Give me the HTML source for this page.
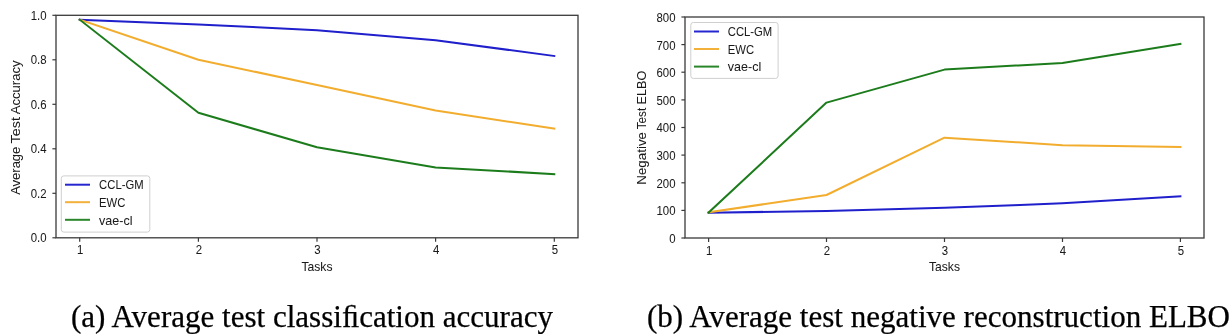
<!DOCTYPE html><html><head><meta charset="utf-8"><style>html,body{margin:0;padding:0;background:#fff;width:1232px;height:334px;overflow:hidden}svg{display:block;filter:blur(0.4px)}</style></head><body><svg width="1232" height="334" viewBox="0 0 1232 334">
<style>.t{font-family:"Liberation Sans",sans-serif;font-size:12.8px;fill:#1a1a1a;stroke:#1a1a1a;stroke-width:0.04px}.c{font-family:"Liberation Serif",serif;font-size:31px;fill:#000;stroke:#000;stroke-width:0.25px}</style>
<rect width="1232" height="334" fill="#fff"/>
<polyline points="79.7,19.7 198.4,24.5 317.0,30.2 435.6,40.2 554.3,56.0" fill="none" stroke="#1f1fcc" stroke-width="2" stroke-linejoin="round" stroke-linecap="square"/>
<polyline points="79.7,19.7 198.4,59.8 317.0,84.9 435.6,110.6 554.3,128.6" fill="none" stroke="#f2ad2e" stroke-width="2" stroke-linejoin="round" stroke-linecap="square"/>
<polyline points="79.7,19.7 198.4,112.8 317.0,147.3 435.6,167.4 554.3,174.1" fill="none" stroke="#1c7c1c" stroke-width="2" stroke-linejoin="round" stroke-linecap="square"/>
<rect x="56" y="15.3" width="522" height="222.5" fill="none" stroke="#3a3a3a" stroke-width="1.3"/>
<line x1="52.4" y1="237.8" x2="56" y2="237.8" stroke="#3a3a3a" stroke-width="1.2"/>
<text transform="translate(46.5,242.1) scale(0.890625,1)" text-anchor="end" class="t">0.0</text>
<line x1="52.4" y1="193.3" x2="56" y2="193.3" stroke="#3a3a3a" stroke-width="1.2"/>
<text transform="translate(46.5,197.6) scale(0.890625,1)" text-anchor="end" class="t">0.2</text>
<line x1="52.4" y1="148.8" x2="56" y2="148.8" stroke="#3a3a3a" stroke-width="1.2"/>
<text transform="translate(46.5,153.1) scale(0.890625,1)" text-anchor="end" class="t">0.4</text>
<line x1="52.4" y1="104.3" x2="56" y2="104.3" stroke="#3a3a3a" stroke-width="1.2"/>
<text transform="translate(46.5,108.6) scale(0.890625,1)" text-anchor="end" class="t">0.6</text>
<line x1="52.4" y1="59.8" x2="56" y2="59.8" stroke="#3a3a3a" stroke-width="1.2"/>
<text transform="translate(46.5,64.1) scale(0.890625,1)" text-anchor="end" class="t">0.8</text>
<line x1="52.4" y1="15.3" x2="56" y2="15.3" stroke="#3a3a3a" stroke-width="1.2"/>
<text transform="translate(46.5,19.6) scale(0.890625,1)" text-anchor="end" class="t">1.0</text>
<line x1="79.7" y1="237.8" x2="79.7" y2="241.8" stroke="#3a3a3a" stroke-width="1.2"/>
<text transform="translate(80.2,254.3) scale(0.890625,1)" text-anchor="middle" class="t">1</text>
<line x1="198.4" y1="237.8" x2="198.4" y2="241.8" stroke="#3a3a3a" stroke-width="1.2"/>
<text transform="translate(198.9,254.3) scale(0.890625,1)" text-anchor="middle" class="t">2</text>
<line x1="317.0" y1="237.8" x2="317.0" y2="241.8" stroke="#3a3a3a" stroke-width="1.2"/>
<text transform="translate(317.5,254.3) scale(0.890625,1)" text-anchor="middle" class="t">3</text>
<line x1="435.6" y1="237.8" x2="435.6" y2="241.8" stroke="#3a3a3a" stroke-width="1.2"/>
<text transform="translate(436.1,254.3) scale(0.890625,1)" text-anchor="middle" class="t">4</text>
<line x1="554.3" y1="237.8" x2="554.3" y2="241.8" stroke="#3a3a3a" stroke-width="1.2"/>
<text transform="translate(554.8,254.3) scale(0.890625,1)" text-anchor="middle" class="t">5</text>
<text x="317.0" y="270.6" text-anchor="middle" class="t" textLength="31" lengthAdjust="spacingAndGlyphs">Tasks</text>
<text transform="translate(19.8,194.8) rotate(-90)" x="0" y="0" class="t" textLength="48.1" lengthAdjust="spacingAndGlyphs">Average</text>
<text transform="translate(19.8,143.4) rotate(-90)" x="0" y="0" class="t" textLength="26.3" lengthAdjust="spacingAndGlyphs">Test</text>
<text transform="translate(19.8,114.3) rotate(-90)" x="0" y="0" class="t" textLength="53.8" lengthAdjust="spacingAndGlyphs">Accuracy</text>
<rect x="61.3" y="175.9" width="88.5" height="56.2" rx="2.5" ry="2.5" fill="#fff" fill-opacity="0.8" stroke="#cfcfcf" stroke-width="1"/>
<line x1="65" y1="184.7" x2="90" y2="184.7" stroke="#2626d0" stroke-width="2" stroke-linecap="butt"/>
<text transform="translate(99.1,189.4) scale(0.882,1)" class="t">CCL-GM</text>
<line x1="65" y1="202.2" x2="90" y2="202.2" stroke="#f3b03a" stroke-width="2" stroke-linecap="butt"/>
<text transform="translate(99.1,206.9) scale(0.882,1)" class="t">EWC</text>
<line x1="65" y1="219.8" x2="90" y2="219.8" stroke="#2a862a" stroke-width="2" stroke-linecap="butt"/>
<text transform="translate(99.1,224.5) scale(0.980,1)" class="t">vae-cl</text>
<polyline points="708.6,212.8 826.5,210.9 944.5,207.8 1062.5,203.3 1180.4,196.2" fill="none" stroke="#1f1fcc" stroke-width="2" stroke-linejoin="round" stroke-linecap="square"/>
<polyline points="708.6,212.3 826.5,195.0 944.5,137.7 1062.5,145.2 1180.4,146.9" fill="none" stroke="#f2ad2e" stroke-width="2" stroke-linejoin="round" stroke-linecap="square"/>
<polyline points="708.6,212.6 826.5,102.6 944.5,69.6 1062.5,62.9 1180.4,43.9" fill="none" stroke="#1c7c1c" stroke-width="2" stroke-linejoin="round" stroke-linecap="square"/>
<rect x="685" y="17" width="519" height="221" fill="none" stroke="#3a3a3a" stroke-width="1.3"/>
<line x1="681.4" y1="238.0" x2="685" y2="238.0" stroke="#3a3a3a" stroke-width="1.2"/>
<text transform="translate(675.5,242.9) scale(0.890625,1)" text-anchor="end" class="t">0</text>
<line x1="681.4" y1="210.4" x2="685" y2="210.4" stroke="#3a3a3a" stroke-width="1.2"/>
<text transform="translate(675.5,215.3) scale(0.890625,1)" text-anchor="end" class="t">100</text>
<line x1="681.4" y1="182.8" x2="685" y2="182.8" stroke="#3a3a3a" stroke-width="1.2"/>
<text transform="translate(675.5,187.7) scale(0.890625,1)" text-anchor="end" class="t">200</text>
<line x1="681.4" y1="155.1" x2="685" y2="155.1" stroke="#3a3a3a" stroke-width="1.2"/>
<text transform="translate(675.5,160.0) scale(0.890625,1)" text-anchor="end" class="t">300</text>
<line x1="681.4" y1="127.5" x2="685" y2="127.5" stroke="#3a3a3a" stroke-width="1.2"/>
<text transform="translate(675.5,132.4) scale(0.890625,1)" text-anchor="end" class="t">400</text>
<line x1="681.4" y1="99.9" x2="685" y2="99.9" stroke="#3a3a3a" stroke-width="1.2"/>
<text transform="translate(675.5,104.8) scale(0.890625,1)" text-anchor="end" class="t">500</text>
<line x1="681.4" y1="72.2" x2="685" y2="72.2" stroke="#3a3a3a" stroke-width="1.2"/>
<text transform="translate(675.5,77.2) scale(0.890625,1)" text-anchor="end" class="t">600</text>
<line x1="681.4" y1="44.6" x2="685" y2="44.6" stroke="#3a3a3a" stroke-width="1.2"/>
<text transform="translate(675.5,49.5) scale(0.890625,1)" text-anchor="end" class="t">700</text>
<line x1="681.4" y1="17.0" x2="685" y2="17.0" stroke="#3a3a3a" stroke-width="1.2"/>
<text transform="translate(675.5,21.9) scale(0.890625,1)" text-anchor="end" class="t">800</text>
<line x1="708.6" y1="238" x2="708.6" y2="242.0" stroke="#3a3a3a" stroke-width="1.2"/>
<text transform="translate(709.1,254.5) scale(0.890625,1)" text-anchor="middle" class="t">1</text>
<line x1="826.5" y1="238" x2="826.5" y2="242.0" stroke="#3a3a3a" stroke-width="1.2"/>
<text transform="translate(827.0,254.5) scale(0.890625,1)" text-anchor="middle" class="t">2</text>
<line x1="944.5" y1="238" x2="944.5" y2="242.0" stroke="#3a3a3a" stroke-width="1.2"/>
<text transform="translate(945.0,254.5) scale(0.890625,1)" text-anchor="middle" class="t">3</text>
<line x1="1062.5" y1="238" x2="1062.5" y2="242.0" stroke="#3a3a3a" stroke-width="1.2"/>
<text transform="translate(1063.0,254.5) scale(0.890625,1)" text-anchor="middle" class="t">4</text>
<line x1="1180.4" y1="238" x2="1180.4" y2="242.0" stroke="#3a3a3a" stroke-width="1.2"/>
<text transform="translate(1180.9,254.5) scale(0.890625,1)" text-anchor="middle" class="t">5</text>
<text x="944.5" y="270.8" text-anchor="middle" class="t" textLength="31" lengthAdjust="spacingAndGlyphs">Tasks</text>
<text transform="translate(646.3,184.7) rotate(-90)" x="0" y="0" class="t" textLength="52.7" lengthAdjust="spacingAndGlyphs">Negative</text>
<text transform="translate(646.3,129.3) rotate(-90)" x="0" y="0" class="t" textLength="21.5" lengthAdjust="spacingAndGlyphs">Test</text>
<text transform="translate(646.3,104.4) rotate(-90)" x="0" y="0" class="t" textLength="33.6" lengthAdjust="spacingAndGlyphs">ELBO</text>
<rect x="690.8" y="22.5" width="87.3" height="55.9" rx="2.5" ry="2.5" fill="#fff" fill-opacity="0.8" stroke="#cfcfcf" stroke-width="1"/>
<line x1="694" y1="31.5" x2="719" y2="31.5" stroke="#2626d0" stroke-width="2" stroke-linecap="butt"/>
<text transform="translate(727.8,36.2) scale(0.882,1)" class="t">CCL-GM</text>
<line x1="694" y1="49.0" x2="719" y2="49.0" stroke="#f3b03a" stroke-width="2" stroke-linecap="butt"/>
<text transform="translate(727.8,53.7) scale(0.882,1)" class="t">EWC</text>
<line x1="694" y1="66.6" x2="719" y2="66.6" stroke="#2a862a" stroke-width="2" stroke-linecap="butt"/>
<text transform="translate(727.8,71.3) scale(0.980,1)" class="t">vae-cl</text>
<text x="71" y="326.8" class="c" textLength="482" lengthAdjust="spacingAndGlyphs">(a) Average test classi&#xFB01;cation accuracy</text>
<text x="647" y="326.8" class="c" textLength="583" lengthAdjust="spacingAndGlyphs">(b) Average test negative reconstruction ELBO</text>
</svg></body></html>
